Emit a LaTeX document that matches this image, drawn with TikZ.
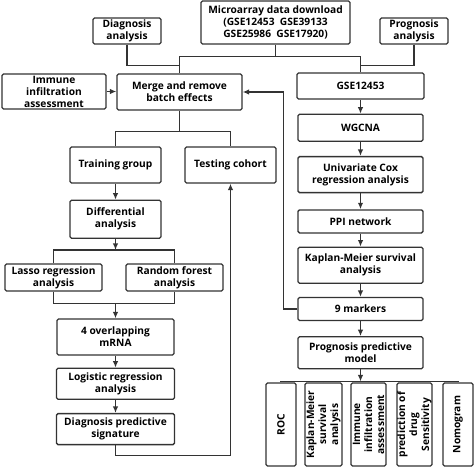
\documentclass[tikz,border=0pt]{standalone}
\usepackage{fontspec}
\setmainfont{Open Sans}
\usetikzlibrary{arrows.meta,calc,positioning}
\tikzset{
    caja/.style={draw=black!80,line width=1.3pt,rounded corners=1.5pt,fill=white,
        align=center,inner sep=1pt,font=\bfseries\fontsize{10.2}{12}\selectfont},
    cajader/.style={caja,minimum width=125pt},
    cajav/.style={caja,rotate=90,inner sep=0pt,minimum width=83pt},
    linea/.style={draw=black!80,line width=1.3pt},
    flecha/.style={linea,-{Latex[length=6.5pt,width=5.5pt]}},
}
\begin{document}
\begin{tikzpicture}[x=1pt,y=1pt]
    \useasboundingbox (0,0) rectangle (474,-467);

    \node [caja,minimum width=149pt,minimum height=43pt] (datos) at (275.5,-22.5)
        {Microarray data download\\(GSE12453\ \ GSE39133\\GSE25986\ \ GSE17920)};
    \node [caja,minimum width=68pt,minimum height=26pt] (diag) at (127,-31) {Diagnosis\\analysis};
    \node [caja,minimum width=68pt,minimum height=26pt] (prog) at (414,-31) {Prognosis\\analysis};
    \node [caja,minimum width=125pt,minimum height=36pt] (merge) at (179.5,-92) {Merge and remove\\batch effects};
    \node [caja,inner sep=0pt,minimum width=104pt,minimum height=35pt] (inmune) at (54,-91.5) {Immune\\infiltration\\assessment};
    \path [linea] (datos.south) -- ++(0,-12) coordinate (barra1);
    \path [linea] (merge.north) |- (barra1);
    \path [flecha] (inmune.east) -- (inmune.east -| merge.west);

    % prognosis branch
    \node [cajader,minimum width=127pt,minimum height=26pt] (gse) at (360.5,-86) {GSE12453};
    \path [linea] (barra1) -| (gse.north);
    \path [linea] (diag.south) |- ($(merge.north)+(0,8)$);
    \path [linea] (prog.south) |- ($(gse.north)+(0,7)$);
    \node [cajader,minimum height=27pt,below=14pt of gse] (wgcna) {WGCNA};
    \path [flecha] (gse) -- (wgcna);
    \node [cajader,minimum height=36pt,below=14pt of wgcna] (cox) {Univariate Cox\\regression analysis};
    \path [flecha] (wgcna) -- (cox);
    \node [cajader,minimum height=23pt,below=16pt of cox] (ppi) {PPI network};
    \path [flecha] (cox) -- (ppi);
    \node [cajader,minimum height=36pt,below=13pt of ppi] (km) {Kaplan-Meier survival\\analysis};
    \path [flecha] (ppi) -- (km);
    \node [cajader,minimum height=23pt,below=13pt of km] (marcadores) {9 markers};
    \path [flecha] (km) -- (marcadores);
    \path [flecha] (marcadores.west) -- ++(-14,0) |- (merge.east);
    \node [cajader,minimum height=32pt,below=15pt of marcadores] (modelo) {Prognosis predictive\\model};
    \path [flecha] (marcadores) -- (modelo);
    \path [flecha] (modelo.south) -- ++(0,-12) coordinate (barra3);

    \node [cajav,minimum height=30pt] (roc) at (281,-424.5) {ROC};
    \node [cajav,minimum height=37pt] (kmb) at (323.5,-424.5) {Kaplan-Meier\\survival\\analysis};
    \node [cajav,minimum height=35pt] (infil) at (368.5,-424.5) {Immune\\infiltration\\assessment};
    \node [cajav,minimum height=35pt] (droga) at (414.5,-424.5) {prediction of\\drug\\Sensitivity};
    \node [cajav,minimum height=30pt] (nomo) at (458,-424.5) {Nomogram};
    \path [linea] (roc.east) |- (barra3) -| (nomo.east);
    \path [linea] (kmb.east) -- (kmb.east |- barra3);
    \path [linea] (infil.east) -- (infil.east |- barra3);
    \path [linea] (droga.east) -- (droga.east |- barra3);

    % diagnosis branch
    \node [caja,minimum width=91pt,minimum height=36pt] (train) at (115.5,-165) {Training group};
    \node [caja,minimum width=91pt,minimum height=36pt] (test) at (230.5,-165) {Testing cohort};
    \path [linea] (merge.south) -- ++(0,-21) coordinate (barra2);
    \path [linea] (train.north) |- (barra2) -| (test.north);
    \node [caja,minimum width=91pt,minimum height=38pt,below=16pt of train] (difer) {Differential\\analysis};
    \path [flecha] (train) -- (difer);
    \node [caja,minimum width=97pt,minimum height=27pt] (lasso) at (53.5,-277.5) {Lasso regression\\analysis};
    \node [caja,minimum width=97pt,minimum height=27pt] (bosque) at (174.5,-277.5) {Random forest\\analysis};
    \path [flecha] (difer.south) -- ++(0,-11) coordinate (barra4);
    \path [linea] (lasso.north) |- (barra4) -| (bosque.north);
    \node [caja,minimum width=117pt,minimum height=36pt] (solape) at (115.5,-337) {4 overlapping\\mRNA};
    \path [linea] (lasso.south) |- ($(solape.north)+(0,15)$) -| (bosque.south);
    \path [flecha] ($(solape.north)+(0,15)$) -- (solape.north);
    \node [caja,minimum width=118pt,minimum height=31pt,below=12pt of solape] (logit) {Logistic regression\\analysis};
    \path [flecha] (solape) -- (logit);
    \node [caja,minimum width=118pt,minimum height=31pt,below=13pt of logit] (firma) {Diagnosis predictive\\signature};
    \path [flecha] (logit) -- (firma);
    \path [flecha] (firma.south) -- ++(0,-10) -| (test.south);
\end{tikzpicture}
\end{document}
